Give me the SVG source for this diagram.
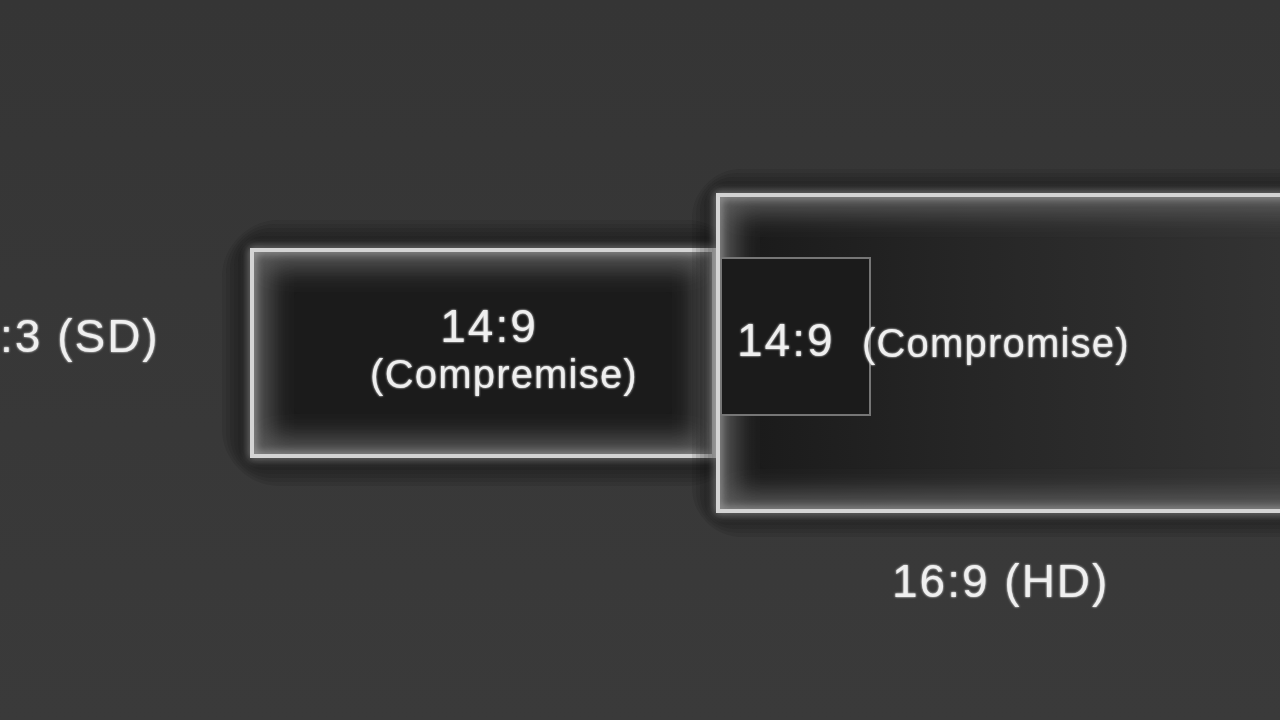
<svg xmlns="http://www.w3.org/2000/svg" width="1280" height="720" viewBox="0 0 1280 720">
<style>
.lbl{font-family:"Liberation Sans",Arial,sans-serif;fill:#efefef;font-size:46px;letter-spacing:2px}
.sub{font-family:"Liberation Sans",Arial,sans-serif;fill:#efefef;font-size:40px;letter-spacing:1.2px}
.frame{fill:none;stroke:#d4d4d4;stroke-width:4}
.halo{fill:none;stroke:#e8e8e8;stroke-width:6;opacity:0.55}
.inner{fill:none;stroke:#5c5c5c;stroke-width:34}
.sh{fill:none;stroke:#101010;stroke-opacity:0.09}
</style>
<defs>
<filter id="blur3" filterUnits="userSpaceOnUse" x="0" y="0" width="1280" height="720"><feGaussianBlur stdDeviation="4"/></filter>
<filter id="blur14" filterUnits="userSpaceOnUse" x="0" y="0" width="1280" height="720"><feGaussianBlur stdDeviation="13"/></filter>
<filter id="tglow" x="-10%" y="-30%" width="120%" height="160%"><feGaussianBlur stdDeviation="1.2" result="b"/><feMerge><feMergeNode in="b"/><feMergeNode in="SourceGraphic"/></feMerge></filter>
<clipPath id="clipL"><rect x="252" y="250" width="462" height="206"/></clipPath>
<clipPath id="clipR"><rect x="718" y="195" width="620" height="316"/></clipPath>
<linearGradient id="gradR" x1="718" y1="0" x2="1280" y2="0" gradientUnits="userSpaceOnUse">
<stop offset="0" stop-color="#191919"/><stop offset="0.45" stop-color="#262626"/><stop offset="1" stop-color="#333333"/>
</linearGradient>
<linearGradient id="bg" x1="0" y1="0" x2="0" y2="1">
<stop offset="0" stop-color="#353535"/><stop offset="1" stop-color="#3a3a3a"/>
</linearGradient>
</defs>
<rect width="1280" height="720" fill="url(#bg)"/>
<g id="label-4-3">
<text class="lbl" x="0" y="352" filter="url(#tglow)">:3 (SD)</text>
</g>
<g id="box-14-9">
<g class="sh">
<rect x="252" y="250" width="462" height="206" rx="4" stroke-width="12"/>
<rect x="252" y="250" width="462" height="206" rx="8" stroke-width="20"/>
<rect x="252" y="250" width="462" height="206" rx="12" stroke-width="28"/>
<rect x="252" y="250" width="462" height="206" rx="16" stroke-width="36"/>
<rect x="252" y="250" width="462" height="206" rx="20" stroke-width="44"/>
<rect x="252" y="250" width="462" height="206" rx="24" stroke-width="52"/>
<rect x="252" y="250" width="462" height="206" rx="28" stroke-width="60"/>
</g>
<rect x="252" y="250" width="462" height="206" fill="#1b1b1b"/>
<g clip-path="url(#clipL)"><rect class="inner" x="252" y="250" width="462" height="206" filter="url(#blur14)"/></g>
<rect class="halo" x="252" y="250" width="462" height="206" filter="url(#blur3)"/>
<rect class="frame" x="252" y="250" width="462" height="206"/>
<text class="lbl" x="489" y="342" text-anchor="middle" filter="url(#tglow)">14:9</text>
<text class="sub" x="504" y="388" text-anchor="middle" filter="url(#tglow)">(Compremise)</text>
</g>
<g id="box-16-9">
<g class="sh">
<rect x="718" y="195" width="620" height="316" rx="4" stroke-width="12"/>
<rect x="718" y="195" width="620" height="316" rx="8" stroke-width="20"/>
<rect x="718" y="195" width="620" height="316" rx="12" stroke-width="28"/>
<rect x="718" y="195" width="620" height="316" rx="16" stroke-width="36"/>
<rect x="718" y="195" width="620" height="316" rx="20" stroke-width="44"/>
<rect x="718" y="195" width="620" height="316" rx="24" stroke-width="52"/>
</g>
<rect x="718" y="195" width="620" height="316" fill="url(#gradR)"/>
<g clip-path="url(#clipR)"><rect class="inner" x="718" y="195" width="620" height="316" filter="url(#blur14)"/></g>
<rect class="halo" x="718" y="195" width="620" height="316" filter="url(#blur3)"/>
<rect class="frame" x="718" y="195" width="620" height="316"/>
<g id="inner-14-9">
<rect x="721" y="258" width="149" height="157" fill="#1b1b1b" stroke="#767676" stroke-width="2"/>
</g>
<text class="lbl" x="737" y="356" filter="url(#tglow)" letter-spacing="1.5">14:9</text>
<text class="sub" x="862" y="357" filter="url(#tglow)">(Compromise)</text>
</g>
<g id="label-16-9">
<text class="lbl" x="892" y="597" filter="url(#tglow)">16:9 (HD)</text>
</g>
<g id="connectors"/>
</svg>
